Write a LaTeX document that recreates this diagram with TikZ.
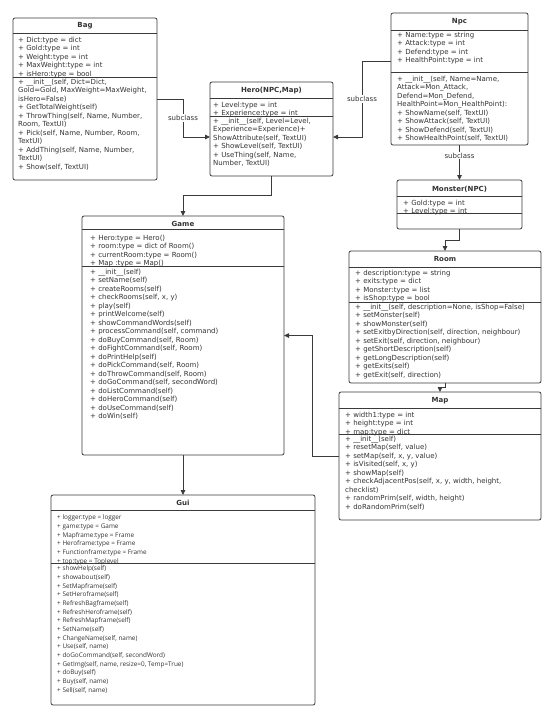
\documentclass[tikz,border=0pt]{standalone}
\usepackage{fontspec}
\setmainfont{DejaVu Sans}
\newfontfamily\guifont{Open Sans}
\usetikzlibrary{arrows.meta}
\definecolor{umlline}{HTML}{3A3A3A}
\definecolor{umltext}{HTML}{333333}

\begin{document}
\begin{tikzpicture}[x=1pt, y=-1pt,
    classbox/.style={draw=umlline, line width=0.8pt, rounded corners=2pt, inner sep=0pt, outer sep=0pt, anchor=north west},
    cname/.style={font=\bfseries\fontsize{7}{8.5}\selectfont, text=umltext, inner sep=0pt},
    members/.style={font=\fontsize{7}{8.5}\selectfont, text=umltext, align=left, anchor=north west, inner sep=0pt, yshift=-0.8pt},
    guimembers/.style={members, font=\guifont\fontsize{6.4}{8.65}\selectfont},
    divider/.style={draw=umlline, line width=0.7pt},
    link/.style={draw=umlline, line width=0.8pt, -{Triangle[length=5pt,width=4.5pt]}},
    linklabel/.style={font=\fontsize{7}{8.5}\selectfont, text=umltext, fill=white, inner sep=1pt}]
    \useasboundingbox (0,0) rectangle (554,716);

    % Bag
    \node[classbox, minimum width=144pt, minimum height=162pt] (bag) at (13,18) {};
    \draw[divider] (13,33) -- (157,33);
    \draw[divider] (13,77) -- (157,77);
    \node[cname] at (85,26) {Bag};
    \node[members] at (18,36) {+ Dict:type = dict\\+ Gold:type = int\\+ Weight:type = int\\+ MaxWeight:type = int\\+ isHero:type = bool};
    \node[members] at (18,78) {+ \_\_init\_\_(self, Dict=Dict,\\Gold=Gold, MaxWeight=MaxWeight,\\isHero=False)\\+ GetTotalWeight(self)\\+ ThrowThing(self, Name, Number,\\Room, TextUI)\\+ Pick(self, Name, Number, Room,\\TextUI)\\+ AddThing(self, Name, Number,\\TextUI)\\+ Show(self, TextUI)};

    % Npc
    \node[classbox, minimum width=137pt, minimum height=132pt] (npc) at (391,13) {};
    \draw[divider] (391,30) -- (528,30);
    \draw[divider] (391,72) -- (528,72);
    \node[cname] at (459.5,22) {Npc};
    \node[members] at (397,31) {+ Name:type = string\\+ Attack:type = int\\+ Defend:type = int\\+ HealthPoint:type = int};
    \node[members] at (397,75) {+ \_\_init\_\_(self, Name=Name,\\Attack=Mon\_Attack,\\Defend=Mon\_Defend,\\HealthPoint=Mon\_HealthPoint):\\+ ShowName(self, TextUI)\\+ ShowAttack(self, TextUI)\\+ ShowDefend(self, TextUI)\\+ ShowHealthPoint(self, TextUI)};

    % Hero
    \node[classbox, minimum width=123pt, minimum height=94pt] (hero) at (210,82) {};
    \draw[divider] (210,98) -- (333,98);
    \draw[divider] (210,116) -- (333,116);
    \node[cname] at (271.5,91) {Hero(NPC,Map)};
    \node[members] at (213,101) {+ Level:type = int\\+ Experience:type = int};
    \node[members] at (213,117) {+ \_\_init\_\_(self, Level=Level,\\Experience=Experience)+\\ShowAttribute(self, TextUI)\\+ ShowLevel(self, TextUI)\\+ UseThing(self, Name,\\Number, TextUI)};

    % Monster
    \node[classbox, minimum width=125pt, minimum height=49pt] (monster) at (397,180) {};
    \draw[divider] (397,196) -- (522,196);
    \draw[divider] (397,213) -- (522,213);
    \node[cname] at (459.5,189) {Monster(NPC)};
    \node[members] at (403,199) {+ Gold:type = int\\+ Level:type = int};

    % Game
    \node[classbox, minimum width=202pt, minimum height=239pt] (game) at (82,216) {};
    \draw[divider] (82,229) -- (284,229);
    \draw[divider] (82,266) -- (284,266);
    \node[cname] at (183,224) {Game};
    \node[members] at (90,234) {+ Hero:type = Hero()\\+ room:type = dict of Room()\\+ currentRoom:type = Room()\\+ Map :type = Map()};
    \node[members] at (90,268) {+ \_\_init\_\_(self)\\+ setName(self)\\+ createRooms(self)\\+ checkRooms(self, x, y)\\+ play(self)\\+ printWelcome(self)\\+ showCommandWords(self)\\+ processCommand(self, command)\\+ doBuyCommand(self, Room)\\+ doFightCommand(self, Room)\\+ doPrintHelp(self)\\+ doPickCommand(self, Room)\\+ doThrowCommand(self, Room)\\+ doGoCommand(self, secondWord)\\+ doListCommand(self)\\+ doHeroCommand(self)\\+ doUseCommand(self)\\+ doWin(self)};

    % Room
    \node[classbox, minimum width=192pt, minimum height=132pt] (room) at (349,251) {};
    \draw[divider] (349,267) -- (541,267);
    \draw[divider] (349,302) -- (541,302);
    \node[cname] at (445,259) {Room};
    \node[members] at (355,269) {+ description:type = string\\+ exits:type = dict\\+ Monster:type = list\\+ isShop:type = bool};
    \node[members] at (355,303) {+ \_\_init\_\_(self, description=None, isShop=False)\\+ setMonster(self)\\+ showMonster(self)\\+ setExitbyDirection(self, direction, neighbour)\\+ setExit(self, direction, neighbour)\\+ getShortDescription(self)\\+ getLongDescription(self)\\+ getExits(self)\\+ getExit(self, direction)};

    % Map
    \node[classbox, minimum width=202pt, minimum height=128pt] (map) at (339,392) {};
    \draw[divider] (339,408) -- (541,408);
    \draw[divider] (339,434) -- (541,434);
    \node[cname] at (440,401) {Map};
    \node[members] at (345,411) {+ width1:type = int\\+ height:type = int\\+ map:type = dict};
    \node[members] at (345,435) {+ \_\_init\_\_(self)\\+ resetMap(self, value)\\+ setMap(self, x, y, value)\\+ isVisited(self, x, y)\\+ showMap(self)\\+ checkAdjacentPos(self, x, y, width, height,\\checklist)\\+ randomPrim(self, width, height)\\+ doRandomPrim(self)};

    % Gui
    \node[classbox, minimum width=264pt, minimum height=210pt] (gui) at (51,495) {};
    \draw[divider] (51,510) -- (315,510);
    \draw[divider] (51,563) -- (315,563);
    \node[cname] at (183,503) {Gui};
    \node[guimembers] at (57,514) {+ logger:type = logger\\+ game:type = Game\\+ Mapframe:type = Frame\\+ Heroframe:type = Frame\\+ Functionframe:type = Frame\\+ top:type = Toplevel};
    \node[guimembers] at (57,565) {+ showHelp(self)\\+ showabout(self)\\+ SetMapframe(self)\\+ SetHeroframe(self)\\+ RefreshBagframe(self)\\+ RefreshHeroframe(self)\\+ RefreshMapframe(self)\\+ SetName(self)\\+ ChangeName(self, name)\\+ Use(self, name)\\+ doGoCommand(self, secondWord)\\+ GetImg(self, name, resize=0, Temp=True)\\+ doBuy(self)\\+ Buy(self, name)\\+ Sell(self, name)};

    % Links
    \draw[link] (bag.east) -- ++(26,0) |- ([yshift=-8pt]hero.west) node[linklabel, pos=0.25] {subclass};
    \draw[link] ([yshift=18pt]npc.west) -- ++(-29,0) |- ([yshift=-8pt]hero.east) node[linklabel, pos=0.25] {subclass};
    \draw[link] (npc.south) -- (monster.north) node[linklabel, pos=0.3] {subclass};
    \draw[link] (monster.south) -- ++(0,11) -| (room.north);
    \draw[link] (hero.south) -- ++(0,19) -| (game.north);
    \draw[link] (room.south) -- ++(0,4) -| (map.north);
    \draw[link] (map.west) -- ++(-27,0) |- (game.east);
    \draw[link] (game.south) -- (gui.north);
\end{tikzpicture}
\end{document}
